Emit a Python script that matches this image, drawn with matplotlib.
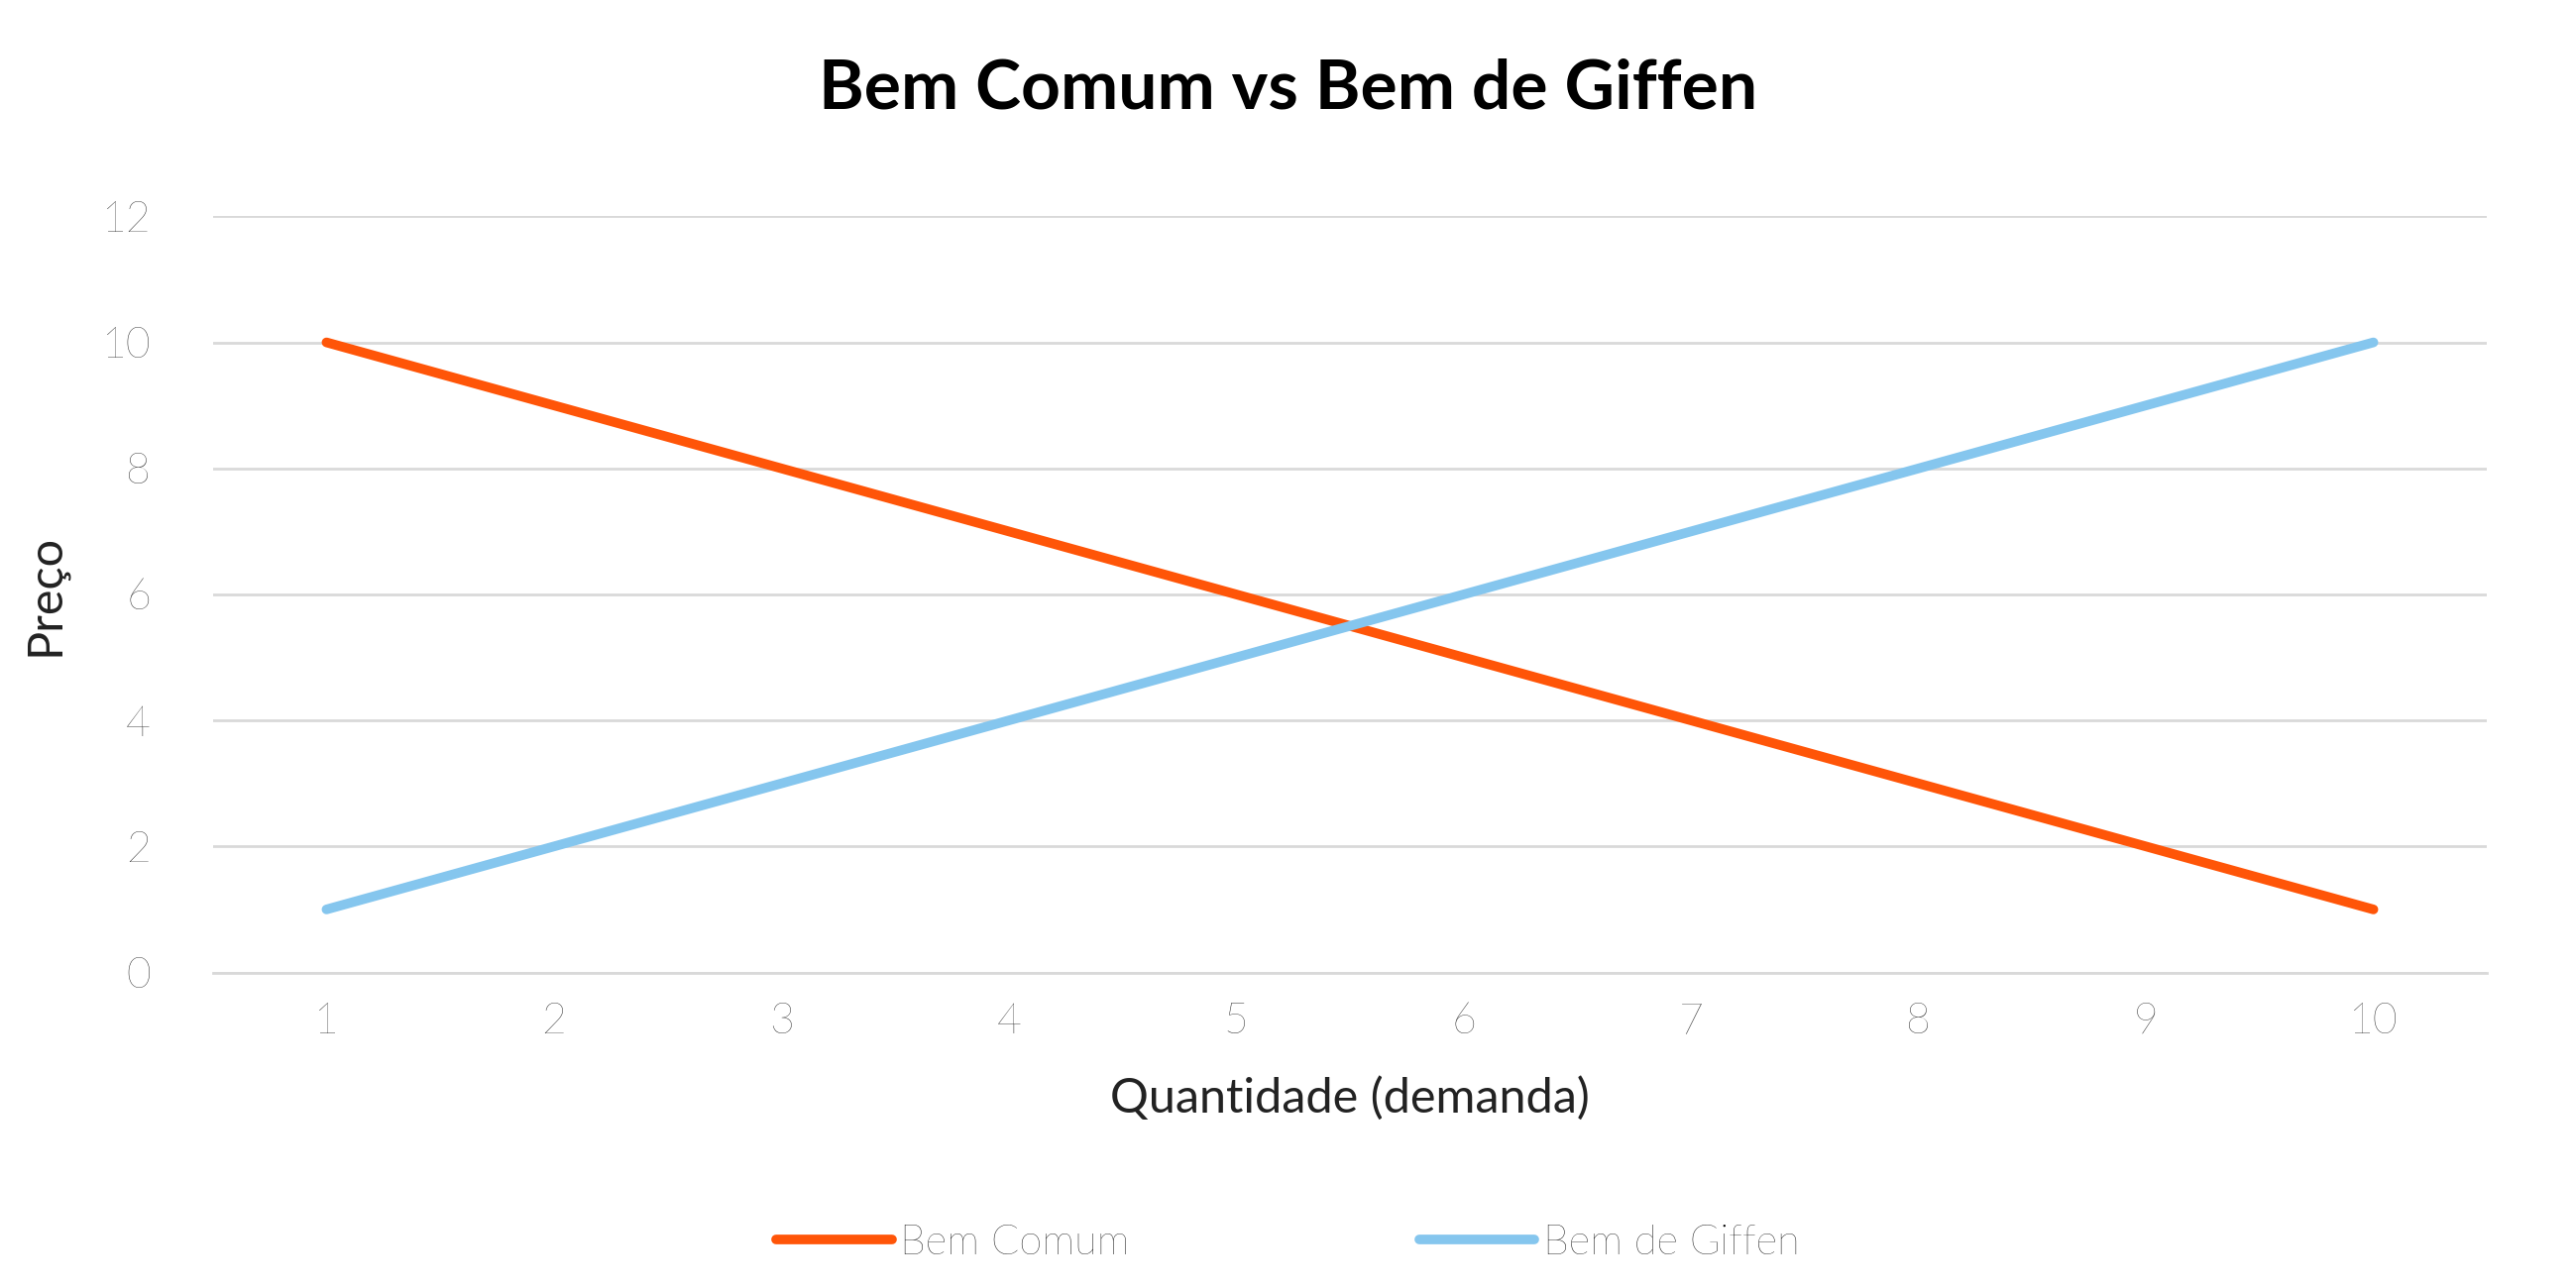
import matplotlib
matplotlib.use("Agg")
import matplotlib.pyplot as plt

x = [1,2,3,4,5,6,7,8,9,10]
bem_comum = [10,9,8,7,6,5,4,3,2,1]
bem_giffen = [1,2,3,4,5,6,7,8,9,10]
yticks = [0,2,4,6,8,10,12]

plt.rcParams['font.family'] = ['Lato', 'DejaVu Sans']
plt.rcParams['font.weight'] = 'light'
fig = plt.figure(figsize=(25.99, 13), dpi=100)
ax = fig.add_axes([0.0826, 0.245, 0.8829, 0.587])
ax.plot(x, bem_comum, color='#FF5508', lw=7, solid_capstyle='round', label='Bem Comum')
ax.plot(x, bem_giffen, color='#85C6EE', lw=7, solid_capstyle='round', label='Bem de Giffen')
ax.set_xlim(0.5, 10.5)
ax.set_ylim(0, 12)
ax.set_yticks(yticks)
ax.set_xticks(x)
ax.grid(axis='y', color='#D9D9D9', lw=2)
ax.set_axisbelow(True)
for s in ['top','right','left']:
    ax.spines[s].set_visible(False)
ax.spines['bottom'].set_color('#D9D9D9')
ax.spines['bottom'].set_linewidth(2)
ax.tick_params(length=0, labelsize=31, colors='#222222', pad=22)
ax.tick_params(axis='y', pad=45)
ax.set_xlabel('Quantidade (demanda)', fontsize=35, color='#222222', labelpad=25)
ax.set_ylabel('Preço', fontsize=35, color='#222222', labelpad=25)
fig.suptitle('Bem Comum vs Bem de Giffen', fontsize=50, fontweight='bold', y=0.955)
fig.legend(loc='center', bbox_to_anchor=(0.5, 0.035), ncol=2, frameon=False,
           fontsize=30, handlelength=2.8, columnspacing=7, handletextpad=0.2)
fig.savefig('out.png')
